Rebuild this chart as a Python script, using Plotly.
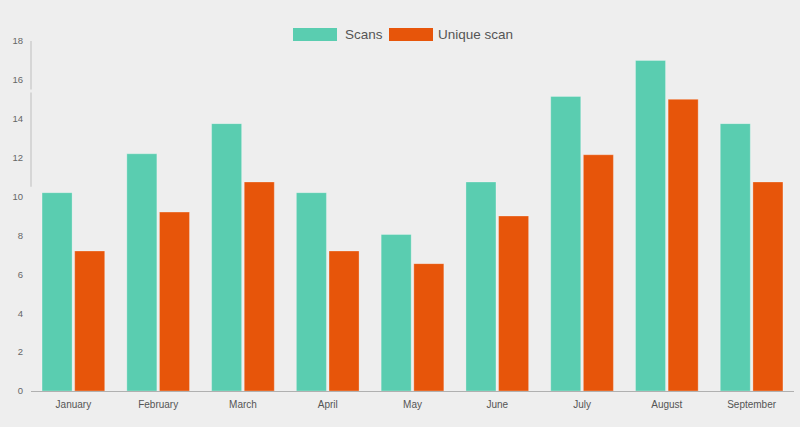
import plotly.graph_objects as go

months = ["January", "February", "March", "April", "May", "June", "July", "August", "September"]
scans = [10.2, 12.2, 13.75, 10.2, 8.05, 10.75, 15.15, 17.0, 13.75]
unique_scan = [7.2, 9.2, 10.75, 7.2, 6.55, 9.0, 12.15, 15.0, 10.75]
series_names = ["Scans", "Unique scan"]
y_ticks = [0, 2, 4, 6, 8, 10, 12, 14, 16, 18]

teal = "#5acdb0"
orange = "#e7550a"
bg = "#eeeeee"

fig = go.Figure()
fig.add_trace(go.Bar(x=months, y=scans, name=series_names[0], marker=dict(color=teal, line=dict(color="rgba(255,255,255,0.35)", width=0.8)), showlegend=False))
fig.add_trace(go.Bar(x=months, y=unique_scan, name=series_names[1], marker=dict(color=orange, line=dict(color="rgba(255,255,255,0.35)", width=0.8)), showlegend=False))

# faint partial y-axis line (as in reference)
fig.add_shape(type="line", xref="paper", yref="y", x0=0, x1=0, y0=15.5, y1=18, line=dict(color="#d6d6d6", width=2))
fig.add_shape(type="line", xref="paper", yref="y", x0=0, x1=0, y0=10.5, y1=15.35, line=dict(color="#d6d6d6", width=2))

# custom legend with wide swatches
legend_items = [(series_names[0], teal, 293, 337, 343), (series_names[1], orange, 389, 433, 436)]
W, H = 800, 427
ml, mr, mt, mb = 31, 6, 41, 36
pw, ph = W - ml - mr, H - mt - mb
def px(x):
    return (x - ml) / pw
def py(y):
    return (H - mb - y) / ph
for name, col, x0, x1, tx in legend_items:
    fig.add_shape(type="rect", xref="paper", yref="paper", x0=px(x0), x1=px(x1), y0=py(41), y1=py(28),
                  fillcolor=col, line=dict(width=0))
    fig.add_annotation(xref="paper", yref="paper", x=px(tx), y=py(34.5), text=name, showarrow=False,
                       xanchor="left", yanchor="middle", font=dict(family="Liberation Sans, Arial", size=13.5, color="#555555"))

fig.update_layout(
    width=W, height=H,
    margin=dict(l=ml, r=mr, t=mt, b=mb),
    paper_bgcolor=bg, plot_bgcolor=bg,
    barmode="group", bargap=0.23, bargroupgap=0.08,
    font=dict(family="Liberation Sans, Arial", color="#555555"),
    xaxis=dict(showgrid=False, showline=True, linecolor="#b0b0b0", linewidth=1,
               ticks="outside", ticklen=4, tickcolor="rgba(0,0,0,0)",
               tickfont=dict(size=10, color="#555555"), zeroline=False, fixedrange=True),
    yaxis=dict(range=[0, 18], tickvals=y_ticks, showgrid=False, zeroline=False, showline=False,
               ticks="outside", ticklen=5, tickcolor="rgba(0,0,0,0)",
               tickfont=dict(size=9.5, color="#666666")),
)

fig.write_html("out.html", config={"displayModeBar": False},
               post_script="document.body.style.margin='0';document.body.style.background='#eeeeee';")
